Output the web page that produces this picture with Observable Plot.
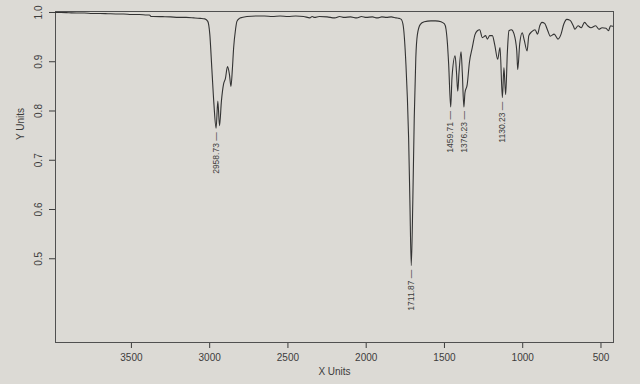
<!DOCTYPE html>
<html><head><meta charset="utf-8">
<script src="https://cdn.jsdelivr.net/npm/d3@7"></script>
<script src="https://cdn.jsdelivr.net/npm/@observablehq/plot@0.6"></script>
<style>
html,body{margin:0;padding:0;background:#dcdad5;}
#chart{width:640px;height:384px;}
</style>
</head><body><div id="chart"></div>
<script>
const wavenumber = [3985,3950,3900,3850,3800,3750,3700,3650,3600,3550,3500,3450,3400,3385,3375,3360,3300,3250,3200,3150,3100,3060,3031,3012,2999,2986,2973,2959,2948,2937,2925,2911,2900,2886,2874,2864,2855,2847,2835,2826,2810,2794,2762,2700,2650,2600,2550,2500,2450,2400,2360,2345,2330,2300,2250,2200,2170,2140,2100,2060,2030,2000,1960,1930,1900,1870,1840,1810,1790,1776,1763,1746,1737,1729,1721,1712,1702,1693,1683,1673,1654,1629,1586,1558,1521,1500,1490,1481,1473,1460,1452,1432,1423,1415,1407,1394,1386,1376,1369,1355,1340,1322,1305,1290,1275,1258,1237,1226,1211,1194,1179,1160,1145,1130,1120,1109,1098,1088,1072,1056,1038,1032,1019,1003,991,972,961,942,921,905,891,877,860,840,824,799,775,755,738,718,697,677,667,646,626,605,585,564,534,513,493,468,452,439,425];
const transmittance = [1.000,1.000,0.9995,0.999,0.999,0.998,0.998,0.9975,0.997,0.997,0.996,0.996,0.995,0.995,0.992,0.992,0.9915,0.991,0.990,0.990,0.989,0.988,0.987,0.982,0.955,0.885,0.815,0.765,0.820,0.770,0.820,0.855,0.865,0.890,0.875,0.850,0.885,0.928,0.965,0.982,0.988,0.990,0.992,0.993,0.993,0.992,0.993,0.992,0.993,0.992,0.989,0.992,0.990,0.992,0.991,0.989,0.992,0.990,0.991,0.989,0.992,0.990,0.991,0.989,0.991,0.990,0.991,0.989,0.988,0.986,0.972,0.894,0.827,0.745,0.620,0.486,0.620,0.786,0.908,0.955,0.976,0.981,0.983,0.983,0.981,0.977,0.966,0.937,0.894,0.808,0.867,0.912,0.878,0.840,0.878,0.920,0.878,0.808,0.837,0.853,0.900,0.929,0.955,0.963,0.965,0.949,0.953,0.946,0.953,0.953,0.935,0.905,0.929,0.827,0.888,0.833,0.920,0.963,0.965,0.957,0.922,0.884,0.937,0.959,0.945,0.922,0.953,0.961,0.965,0.956,0.973,0.980,0.978,0.963,0.952,0.956,0.946,0.956,0.976,0.986,0.984,0.973,0.966,0.973,0.969,0.980,0.973,0.969,0.973,0.966,0.969,0.968,0.963,0.973,0.972];

const peakLabels = ["2958.73","1711.87","1459.71","1376.23","1130.23"];
const peakX = [2958.73,1711.87,1459.71,1376.23,1130.23];
const peakY = [0.765,0.486,0.808,0.808,0.827];

const xTicks = [3500,3000,2500,2000,1500,1000,500];
const yTicks = [0.5,0.6,0.7,0.8,0.9,1.0];
const xTitle = "X Units";
const yTitle = "Y Units";

const spectrum = wavenumber.map((w, i) => ({w, t: transmittance[i]}));
const peaks = peakLabels.map((s, i) => ({s, x: peakX[i], y: peakY[i]}));

const ink = "#3c3c3c";
const chart = Plot.plot({
  width: 640,
  height: 384,
  marginLeft: 55,
  marginRight: 27,
  marginTop: 11,
  marginBottom: 42,
  style: {background: "transparent", fontFamily: "'Liberation Sans', Arial, sans-serif", color: ink},
  x: {domain: [3985, 420], axis: null},
  y: {domain: [0.33, 1.002], axis: null},
  marks: [
    Plot.axisX({ticks: xTicks, tickSize: 6, tickPadding: 5, fontSize: 10, label: null, stroke: ink, tickFormat: d => String(d)}),
    Plot.axisY({ticks: yTicks, tickSize: 6, tickFormat: () => "", label: null, stroke: ink}),
    Plot.text(yTicks, {y: d => d, frameAnchor: "left", dx: -17, rotate: -90, text: d => d.toFixed(1), fontSize: 10, fill: ink, textAnchor: "middle"}),
    Plot.text([xTitle], {frameAnchor: "bottom", dy: 32, text: d => d, fontSize: 10, fill: ink}),
    Plot.text([yTitle], {frameAnchor: "left", dx: -35, dy: -37, rotate: -90, text: d => d, fontSize: 10, fill: ink}),
    Plot.frame({stroke: "#505050", strokeWidth: 1}),
    Plot.line(spectrum, {x: "w", y: "t", stroke: "#333", strokeWidth: 1.1, curve: "monotone-x"}),
    Plot.text(peaks, {x: "x", y: "y", text: d => d.s + " \u2014", rotate: -90, textAnchor: "end", dy: 4, fontSize: 8.5, fill: ink})
  ]
});
document.getElementById("chart").append(chart);
</script>
</body></html>
